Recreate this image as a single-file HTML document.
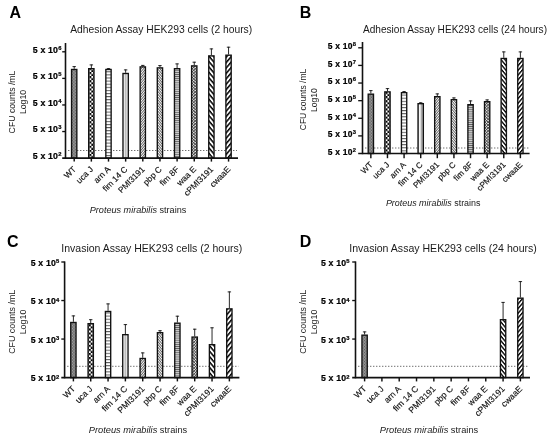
<!DOCTYPE html>
<html><head><meta charset="utf-8"><title>Figure</title>
<style>html,body{margin:0;padding:0;background:#fff}svg{display:block}text{font-family:"Liberation Sans", sans-serif}</style></head>
<body><svg width="550" height="441" viewBox="0 0 550 441">
<rect width="550" height="441" fill="#fff"/>
<defs>
<pattern id="A0" width="1.5" height="1.5" patternUnits="userSpaceOnUse"><rect width="1.5" height="1.5" fill="#a6a6a6"/><rect width="0.75" height="0.75" fill="#5e5e5e"/><rect x="0.75" y="0.75" width="0.75" height="0.75" fill="#5e5e5e"/></pattern>
<pattern id="A1" width="3.95" height="4.1" patternUnits="userSpaceOnUse"><rect width="3.95" height="4.1" fill="#fff"/><rect width="1.975" height="2.05" fill="#000"/><rect x="1.975" y="2.05" width="1.975" height="2.05" fill="#000"/></pattern>
<pattern id="A2" width="3.95" height="3.1" patternUnits="userSpaceOnUse"><rect width="3.95" height="3.1" fill="#fff"/><rect width="3.95" height="1.0" fill="#5c5c5c"/></pattern>
<pattern id="A3" width="3.95" height="4" patternUnits="userSpaceOnUse"><rect width="3.95" height="4" fill="#fbfbfb"/><rect x="1.45" width="1.05" height="4" fill="#888"/></pattern>
<pattern id="A4" width="1.8" height="1.8" patternUnits="userSpaceOnUse" patternTransform="rotate(-50)"><rect width="1.8" height="1.8" fill="#fff"/><rect width="1.8" height="0.8" fill="#4a4a4a"/></pattern>
<pattern id="A5" width="1.8" height="1.8" patternUnits="userSpaceOnUse" patternTransform="rotate(50)"><rect width="1.8" height="1.8" fill="#fff"/><rect width="1.8" height="0.8" fill="#4a4a4a"/></pattern>
<pattern id="A6" width="1.975" height="2.1" patternUnits="userSpaceOnUse"><rect width="1.975" height="2.1" fill="#fff"/><rect width="1.975" height="0.75" fill="#5a5a5a"/><rect x="1.675" width="0.6" height="2.1" fill="#5a5a5a"/><rect x="-0.3" width="0.6" height="2.1" fill="#5a5a5a"/></pattern>
<pattern id="A7" width="2.05" height="2.05" patternUnits="userSpaceOnUse" patternTransform="rotate(45)"><rect width="2.05" height="2.05" fill="#fff"/><rect width="2.05" height="0.8" fill="#4a4a4a"/><rect width="0.8" height="2.05" fill="#4a4a4a"/></pattern>
<pattern id="A8" width="3.471" height="3.471" patternUnits="userSpaceOnUse" patternTransform="rotate(50)"><rect width="3.471" height="3.471" fill="#fff"/><rect width="3.471" height="1.527" fill="#000"/></pattern>
<pattern id="A9" width="3.471" height="3.471" patternUnits="userSpaceOnUse" patternTransform="rotate(-50)"><rect width="3.471" height="3.471" fill="#fff"/><rect width="3.471" height="1.527" fill="#000"/></pattern>
</defs>
<text x="9.5" y="18.2" font-size="16" font-weight="bold" fill="#000">A</text>
<text x="161.2" y="33" font-size="10.3" text-anchor="middle" fill="#1a1a1a">Adhesion Assay HEK293 cells (2 hours)</text>
<line x1="68.0" y1="150.5" x2="237" y2="150.5" stroke="#555" stroke-width="0.85" stroke-dasharray="1.4 1.6"/>
<line x1="74.20" y1="66.2" x2="74.20" y2="68.8" stroke="#111" stroke-width="0.9"/>
<line x1="72.50" y1="66.60000000000001" x2="75.90" y2="66.60000000000001" stroke="#111" stroke-width="0.9"/>
<g transform="translate(72.22,158.10)"><rect x="-0.68" y="-88.62" width="5.30" height="88.62" fill="url(#A0)" stroke="#111" stroke-width="1.35"/></g>
<line x1="91.35" y1="64.5" x2="91.35" y2="68" stroke="#111" stroke-width="0.9"/>
<line x1="89.65" y1="64.9" x2="93.05" y2="64.9" stroke="#111" stroke-width="0.9"/>
<g transform="translate(89.37,158.10)"><rect x="-0.68" y="-89.42" width="5.30" height="89.42" fill="url(#A1)" stroke="#111" stroke-width="1.35"/></g>
<line x1="108.50" y1="68.2" x2="108.50" y2="68.8" stroke="#111" stroke-width="0.9"/>
<line x1="106.80" y1="68.60000000000001" x2="110.20" y2="68.60000000000001" stroke="#111" stroke-width="0.9"/>
<g transform="translate(106.52,158.10)"><rect x="-0.68" y="-88.62" width="5.30" height="88.62" fill="url(#A2)" stroke="#111" stroke-width="1.35"/></g>
<line x1="125.65" y1="69.5" x2="125.65" y2="72.8" stroke="#111" stroke-width="0.9"/>
<line x1="123.95" y1="69.9" x2="127.35" y2="69.9" stroke="#111" stroke-width="0.9"/>
<g transform="translate(123.67,158.10)"><rect x="-0.68" y="-84.62" width="5.30" height="84.62" fill="url(#A3)" stroke="#111" stroke-width="1.35"/></g>
<line x1="142.80" y1="65" x2="142.80" y2="66.2" stroke="#111" stroke-width="0.9"/>
<line x1="141.10" y1="65.4" x2="144.50" y2="65.4" stroke="#111" stroke-width="0.9"/>
<g transform="translate(140.83,158.10)"><rect x="-0.68" y="-91.22" width="5.30" height="91.22" fill="url(#A4)" stroke="#111" stroke-width="1.35"/></g>
<line x1="159.95" y1="65.2" x2="159.95" y2="67.2" stroke="#111" stroke-width="0.9"/>
<line x1="158.25" y1="65.60000000000001" x2="161.65" y2="65.60000000000001" stroke="#111" stroke-width="0.9"/>
<g transform="translate(157.97,158.10)"><rect x="-0.68" y="-90.22" width="5.30" height="90.22" fill="url(#A5)" stroke="#111" stroke-width="1.35"/></g>
<line x1="177.10" y1="63.5" x2="177.10" y2="68" stroke="#111" stroke-width="0.9"/>
<line x1="175.40" y1="63.9" x2="178.80" y2="63.9" stroke="#111" stroke-width="0.9"/>
<g transform="translate(175.12,158.10)"><rect x="-0.68" y="-89.42" width="5.30" height="89.42" fill="url(#A6)" stroke="#111" stroke-width="1.35"/></g>
<line x1="194.25" y1="61.8" x2="194.25" y2="65.2" stroke="#111" stroke-width="0.9"/>
<line x1="192.55" y1="62.199999999999996" x2="195.95" y2="62.199999999999996" stroke="#111" stroke-width="0.9"/>
<g transform="translate(192.28,158.10)"><rect x="-0.68" y="-92.22" width="5.30" height="92.22" fill="url(#A7)" stroke="#111" stroke-width="1.35"/></g>
<line x1="211.40" y1="48.5" x2="211.40" y2="55.2" stroke="#111" stroke-width="0.9"/>
<line x1="209.70" y1="48.9" x2="213.10" y2="48.9" stroke="#111" stroke-width="0.9"/>
<g transform="translate(209.42,158.10)"><rect x="-0.68" y="-102.22" width="5.30" height="102.22" fill="url(#A8)" stroke="#111" stroke-width="1.35"/></g>
<line x1="228.55" y1="46.8" x2="228.55" y2="54.5" stroke="#111" stroke-width="0.9"/>
<line x1="226.85" y1="47.199999999999996" x2="230.25" y2="47.199999999999996" stroke="#111" stroke-width="0.9"/>
<g transform="translate(226.58,158.10)"><rect x="-0.68" y="-102.92" width="5.30" height="102.92" fill="url(#A9)" stroke="#111" stroke-width="1.35"/></g>
<line x1="65.5" y1="43" x2="65.5" y2="158.79999999999998" stroke="#111" stroke-width="1.6"/>
<line x1="62.199999999999996" y1="158.1" x2="238" y2="158.1" stroke="#111" stroke-width="1.7"/>
<line x1="62.199999999999996" y1="51.8" x2="65.5" y2="51.8" stroke="#111" stroke-width="1.35"/>
<text x="32.8" y="52.70" font-size="8.80" font-weight="bold" letter-spacing="0.15" fill="#000" stroke="#000" stroke-width="0.2">5 x 10<tspan font-size="5.80" dy="-3.00">6</tspan></text>
<line x1="62.199999999999996" y1="78.38" x2="65.5" y2="78.38" stroke="#111" stroke-width="1.35"/>
<text x="32.8" y="79.28" font-size="8.80" font-weight="bold" letter-spacing="0.15" fill="#000" stroke="#000" stroke-width="0.2">5 x 10<tspan font-size="5.80" dy="-3.00">5</tspan></text>
<line x1="62.199999999999996" y1="104.96" x2="65.5" y2="104.96" stroke="#111" stroke-width="1.35"/>
<text x="32.8" y="105.86" font-size="8.80" font-weight="bold" letter-spacing="0.15" fill="#000" stroke="#000" stroke-width="0.2">5 x 10<tspan font-size="5.80" dy="-3.00">4</tspan></text>
<line x1="62.199999999999996" y1="131.54" x2="65.5" y2="131.54" stroke="#111" stroke-width="1.35"/>
<text x="32.8" y="132.44" font-size="8.80" font-weight="bold" letter-spacing="0.15" fill="#000" stroke="#000" stroke-width="0.2">5 x 10<tspan font-size="5.80" dy="-3.00">3</tspan></text>
<text x="32.8" y="159.02" font-size="8.80" font-weight="bold" letter-spacing="0.15" fill="#000" stroke="#000" stroke-width="0.2">5 x 10<tspan font-size="5.80" dy="-3.00">2</tspan></text>
<line x1="74.20" y1="158.1" x2="74.20" y2="161.6" stroke="#111" stroke-width="1.45"/>
<text transform="translate(76.60,169.90) rotate(-45)" font-size="8.40" text-anchor="end" fill="#111" stroke="#111" stroke-width="0.15">WT</text>
<line x1="91.35" y1="158.1" x2="91.35" y2="161.6" stroke="#111" stroke-width="1.45"/>
<text transform="translate(93.75,169.90) rotate(-45)" font-size="8.40" text-anchor="end" fill="#111" stroke="#111" stroke-width="0.15">uca J</text>
<line x1="108.50" y1="158.1" x2="108.50" y2="161.6" stroke="#111" stroke-width="1.45"/>
<text transform="translate(110.90,169.90) rotate(-45)" font-size="8.40" text-anchor="end" fill="#111" stroke="#111" stroke-width="0.15">arn A</text>
<line x1="125.65" y1="158.1" x2="125.65" y2="161.6" stroke="#111" stroke-width="1.45"/>
<text transform="translate(128.05,169.90) rotate(-45)" font-size="8.40" text-anchor="end" fill="#111" stroke="#111" stroke-width="0.15">fim 14 C</text>
<line x1="142.80" y1="158.1" x2="142.80" y2="161.6" stroke="#111" stroke-width="1.45"/>
<text transform="translate(145.20,169.90) rotate(-45)" font-size="8.40" text-anchor="end" fill="#111" stroke="#111" stroke-width="0.15">PMI3191</text>
<line x1="159.95" y1="158.1" x2="159.95" y2="161.6" stroke="#111" stroke-width="1.45"/>
<text transform="translate(162.35,169.90) rotate(-45)" font-size="8.40" text-anchor="end" fill="#111" stroke="#111" stroke-width="0.15">pbp C</text>
<line x1="177.10" y1="158.1" x2="177.10" y2="161.6" stroke="#111" stroke-width="1.45"/>
<text transform="translate(179.50,169.90) rotate(-45)" font-size="8.40" text-anchor="end" fill="#111" stroke="#111" stroke-width="0.15">fim 8F</text>
<line x1="194.25" y1="158.1" x2="194.25" y2="161.6" stroke="#111" stroke-width="1.45"/>
<text transform="translate(196.65,169.90) rotate(-45)" font-size="8.40" text-anchor="end" fill="#111" stroke="#111" stroke-width="0.15">waa E</text>
<line x1="211.40" y1="158.1" x2="211.40" y2="161.6" stroke="#111" stroke-width="1.45"/>
<text transform="translate(213.80,169.90) rotate(-45)" font-size="8.40" text-anchor="end" fill="#111" stroke="#111" stroke-width="0.15">cPMI3191</text>
<line x1="228.55" y1="158.1" x2="228.55" y2="161.6" stroke="#111" stroke-width="1.45"/>
<text transform="translate(230.95,169.90) rotate(-45)" font-size="8.40" text-anchor="end" fill="#111" stroke="#111" stroke-width="0.15">cwaaE</text>
<text transform="translate(15.2,102) rotate(-90)" font-size="8.70" text-anchor="middle" fill="#1a1a1a">CFU counts /mL</text>
<text transform="translate(26.2,102) rotate(-90)" font-size="8.70" text-anchor="middle" fill="#1a1a1a">Log10</text>
<text x="138" y="213" font-size="9.10" text-anchor="middle" fill="#1a1a1a"><tspan font-style="italic">Proteus mirabilis</tspan> strains</text>
<defs>
<pattern id="B0" width="1.5" height="1.5" patternUnits="userSpaceOnUse"><rect width="1.5" height="1.5" fill="#a6a6a6"/><rect width="0.75" height="0.75" fill="#5e5e5e"/><rect x="0.75" y="0.75" width="0.75" height="0.75" fill="#5e5e5e"/></pattern>
<pattern id="B1" width="3.95" height="4.1" patternUnits="userSpaceOnUse"><rect width="3.95" height="4.1" fill="#fff"/><rect width="1.975" height="2.05" fill="#000"/><rect x="1.975" y="2.05" width="1.975" height="2.05" fill="#000"/></pattern>
<pattern id="B2" width="3.95" height="3.1" patternUnits="userSpaceOnUse"><rect width="3.95" height="3.1" fill="#fff"/><rect width="3.95" height="1.0" fill="#5c5c5c"/></pattern>
<pattern id="B3" width="3.95" height="4" patternUnits="userSpaceOnUse"><rect width="3.95" height="4" fill="#f6f6f6"/><rect x="1.975" width="1.975" height="4" fill="#a8a8a8"/></pattern>
<pattern id="B4" width="1.8" height="1.8" patternUnits="userSpaceOnUse" patternTransform="rotate(-50)"><rect width="1.8" height="1.8" fill="#fff"/><rect width="1.8" height="0.8" fill="#4a4a4a"/></pattern>
<pattern id="B5" width="1.8" height="1.8" patternUnits="userSpaceOnUse" patternTransform="rotate(50)"><rect width="1.8" height="1.8" fill="#fff"/><rect width="1.8" height="0.8" fill="#4a4a4a"/></pattern>
<pattern id="B6" width="1.975" height="2.1" patternUnits="userSpaceOnUse"><rect width="1.975" height="2.1" fill="#fff"/><rect width="1.975" height="0.75" fill="#5a5a5a"/><rect x="1.675" width="0.6" height="2.1" fill="#5a5a5a"/><rect x="-0.3" width="0.6" height="2.1" fill="#5a5a5a"/></pattern>
<pattern id="B7" width="2.05" height="2.05" patternUnits="userSpaceOnUse" patternTransform="rotate(45)"><rect width="2.05" height="2.05" fill="#fff"/><rect width="2.05" height="0.8" fill="#4a4a4a"/><rect width="0.8" height="2.05" fill="#4a4a4a"/></pattern>
<pattern id="B8" width="3.021" height="3.021" patternUnits="userSpaceOnUse" patternTransform="rotate(50)"><rect width="3.021" height="3.021" fill="#fff"/><rect width="3.021" height="1.329" fill="#000"/></pattern>
<pattern id="B9" width="3.021" height="3.021" patternUnits="userSpaceOnUse" patternTransform="rotate(-50)"><rect width="3.021" height="3.021" fill="#fff"/><rect width="3.021" height="1.329" fill="#000"/></pattern>
</defs>
<text x="299.8" y="18.1" font-size="16" font-weight="bold" fill="#000">B</text>
<text x="455" y="33" font-size="10.1" text-anchor="middle" fill="#1a1a1a">Adhesion Assay HEK293 cells (24 hours)</text>
<line x1="365.0" y1="148" x2="528.6" y2="148" stroke="#555" stroke-width="0.85" stroke-dasharray="1.4 1.6"/>
<line x1="370.85" y1="90.2" x2="370.85" y2="93.5" stroke="#111" stroke-width="0.9"/>
<line x1="369.15" y1="90.60000000000001" x2="372.55" y2="90.60000000000001" stroke="#111" stroke-width="0.9"/>
<g transform="translate(368.88,153.50)"><rect x="-0.68" y="-59.33" width="5.30" height="59.33" fill="url(#B0)" stroke="#111" stroke-width="1.35"/></g>
<line x1="387.47" y1="88.2" x2="387.47" y2="91.2" stroke="#111" stroke-width="0.9"/>
<line x1="385.77" y1="88.60000000000001" x2="389.17" y2="88.60000000000001" stroke="#111" stroke-width="0.9"/>
<g transform="translate(385.49,153.50)"><rect x="-0.68" y="-61.62" width="5.30" height="61.62" fill="url(#B1)" stroke="#111" stroke-width="1.35"/></g>
<line x1="404.08" y1="91.2" x2="404.08" y2="92" stroke="#111" stroke-width="0.9"/>
<line x1="402.38" y1="91.60000000000001" x2="405.78" y2="91.60000000000001" stroke="#111" stroke-width="0.9"/>
<g transform="translate(402.11,153.50)"><rect x="-0.68" y="-60.83" width="5.30" height="60.83" fill="url(#B2)" stroke="#111" stroke-width="1.35"/></g>
<line x1="420.70" y1="102.4" x2="420.70" y2="103" stroke="#111" stroke-width="0.9"/>
<line x1="419.00" y1="102.80000000000001" x2="422.40" y2="102.80000000000001" stroke="#111" stroke-width="0.9"/>
<g transform="translate(418.72,153.50)"><rect x="-0.68" y="-49.83" width="5.30" height="49.83" fill="url(#B3)" stroke="#111" stroke-width="1.35"/></g>
<line x1="437.31" y1="93.5" x2="437.31" y2="96" stroke="#111" stroke-width="0.9"/>
<line x1="435.61" y1="93.9" x2="439.01" y2="93.9" stroke="#111" stroke-width="0.9"/>
<g transform="translate(435.34,153.50)"><rect x="-0.68" y="-56.83" width="5.30" height="56.83" fill="url(#B4)" stroke="#111" stroke-width="1.35"/></g>
<line x1="453.93" y1="97.5" x2="453.93" y2="99" stroke="#111" stroke-width="0.9"/>
<line x1="452.23" y1="97.9" x2="455.62" y2="97.9" stroke="#111" stroke-width="0.9"/>
<g transform="translate(451.95,153.50)"><rect x="-0.68" y="-53.83" width="5.30" height="53.83" fill="url(#B5)" stroke="#111" stroke-width="1.35"/></g>
<line x1="470.54" y1="100.5" x2="470.54" y2="104" stroke="#111" stroke-width="0.9"/>
<line x1="468.84" y1="100.9" x2="472.24" y2="100.9" stroke="#111" stroke-width="0.9"/>
<g transform="translate(468.57,153.50)"><rect x="-0.68" y="-48.83" width="5.30" height="48.83" fill="url(#B6)" stroke="#111" stroke-width="1.35"/></g>
<line x1="487.16" y1="99.5" x2="487.16" y2="101" stroke="#111" stroke-width="0.9"/>
<line x1="485.46" y1="99.9" x2="488.86" y2="99.9" stroke="#111" stroke-width="0.9"/>
<g transform="translate(485.18,153.50)"><rect x="-0.68" y="-51.83" width="5.30" height="51.83" fill="url(#B7)" stroke="#111" stroke-width="1.35"/></g>
<line x1="503.77" y1="51.5" x2="503.77" y2="57.8" stroke="#111" stroke-width="0.9"/>
<line x1="502.07" y1="51.9" x2="505.47" y2="51.9" stroke="#111" stroke-width="0.9"/>
<g transform="translate(501.80,153.50)"><rect x="-0.68" y="-95.03" width="5.30" height="95.03" fill="url(#B8)" stroke="#111" stroke-width="1.35"/></g>
<line x1="520.38" y1="51.5" x2="520.38" y2="57.8" stroke="#111" stroke-width="0.9"/>
<line x1="518.68" y1="51.9" x2="522.09" y2="51.9" stroke="#111" stroke-width="0.9"/>
<g transform="translate(518.41,153.50)"><rect x="-0.68" y="-95.03" width="5.30" height="95.03" fill="url(#B9)" stroke="#111" stroke-width="1.35"/></g>
<line x1="362.5" y1="42" x2="362.5" y2="154.2" stroke="#111" stroke-width="1.6"/>
<line x1="358.2" y1="153.5" x2="529.6" y2="153.5" stroke="#111" stroke-width="1.4"/>
<line x1="358.2" y1="47.8" x2="362.5" y2="47.8" stroke="#111" stroke-width="1.35"/>
<text x="327.8" y="49.20" font-size="8.50" font-weight="bold" letter-spacing="0.22" fill="#000" stroke="#000" stroke-width="0.2">5 x 10<tspan font-size="5.80" dy="-3.00">8</tspan></text>
<line x1="358.2" y1="65.42" x2="362.5" y2="65.42" stroke="#111" stroke-width="1.35"/>
<text x="327.8" y="66.82" font-size="8.50" font-weight="bold" letter-spacing="0.22" fill="#000" stroke="#000" stroke-width="0.2">5 x 10<tspan font-size="5.80" dy="-3.00">7</tspan></text>
<line x1="358.2" y1="83.03999999999999" x2="362.5" y2="83.03999999999999" stroke="#111" stroke-width="1.35"/>
<text x="327.8" y="84.44" font-size="8.50" font-weight="bold" letter-spacing="0.22" fill="#000" stroke="#000" stroke-width="0.2">5 x 10<tspan font-size="5.80" dy="-3.00">6</tspan></text>
<line x1="358.2" y1="100.66" x2="362.5" y2="100.66" stroke="#111" stroke-width="1.35"/>
<text x="327.8" y="102.06" font-size="8.50" font-weight="bold" letter-spacing="0.22" fill="#000" stroke="#000" stroke-width="0.2">5 x 10<tspan font-size="5.80" dy="-3.00">5</tspan></text>
<line x1="358.2" y1="118.28" x2="362.5" y2="118.28" stroke="#111" stroke-width="1.35"/>
<text x="327.8" y="119.68" font-size="8.50" font-weight="bold" letter-spacing="0.22" fill="#000" stroke="#000" stroke-width="0.2">5 x 10<tspan font-size="5.80" dy="-3.00">4</tspan></text>
<line x1="358.2" y1="135.9" x2="362.5" y2="135.9" stroke="#111" stroke-width="1.35"/>
<text x="327.8" y="137.30" font-size="8.50" font-weight="bold" letter-spacing="0.22" fill="#000" stroke="#000" stroke-width="0.2">5 x 10<tspan font-size="5.80" dy="-3.00">3</tspan></text>
<text x="327.8" y="154.92" font-size="8.50" font-weight="bold" letter-spacing="0.22" fill="#000" stroke="#000" stroke-width="0.2">5 x 10<tspan font-size="5.80" dy="-3.00">2</tspan></text>
<line x1="370.85" y1="153.5" x2="370.85" y2="158.20000000000002" stroke="#111" stroke-width="1.45"/>
<text transform="translate(373.25,165.30) rotate(-45)" font-size="8.23" text-anchor="end" fill="#111" stroke="#111" stroke-width="0.15">WT</text>
<line x1="387.47" y1="153.5" x2="387.47" y2="158.20000000000002" stroke="#111" stroke-width="1.45"/>
<text transform="translate(389.87,165.30) rotate(-45)" font-size="8.23" text-anchor="end" fill="#111" stroke="#111" stroke-width="0.15">uca J</text>
<line x1="404.08" y1="153.5" x2="404.08" y2="158.20000000000002" stroke="#111" stroke-width="1.45"/>
<text transform="translate(406.48,165.30) rotate(-45)" font-size="8.23" text-anchor="end" fill="#111" stroke="#111" stroke-width="0.15">arn A</text>
<line x1="420.70" y1="153.5" x2="420.70" y2="158.20000000000002" stroke="#111" stroke-width="1.45"/>
<text transform="translate(423.10,165.30) rotate(-45)" font-size="8.23" text-anchor="end" fill="#111" stroke="#111" stroke-width="0.15">fim 14 C</text>
<line x1="437.31" y1="153.5" x2="437.31" y2="158.20000000000002" stroke="#111" stroke-width="1.45"/>
<text transform="translate(439.71,165.30) rotate(-45)" font-size="8.23" text-anchor="end" fill="#111" stroke="#111" stroke-width="0.15">PMI3191</text>
<line x1="453.93" y1="153.5" x2="453.93" y2="158.20000000000002" stroke="#111" stroke-width="1.45"/>
<text transform="translate(456.32,165.30) rotate(-45)" font-size="8.23" text-anchor="end" fill="#111" stroke="#111" stroke-width="0.15">pbp C</text>
<line x1="470.54" y1="153.5" x2="470.54" y2="158.20000000000002" stroke="#111" stroke-width="1.45"/>
<text transform="translate(472.94,165.30) rotate(-45)" font-size="8.23" text-anchor="end" fill="#111" stroke="#111" stroke-width="0.15">fim 8F</text>
<line x1="487.16" y1="153.5" x2="487.16" y2="158.20000000000002" stroke="#111" stroke-width="1.45"/>
<text transform="translate(489.56,165.30) rotate(-45)" font-size="8.23" text-anchor="end" fill="#111" stroke="#111" stroke-width="0.15">waa E</text>
<line x1="503.77" y1="153.5" x2="503.77" y2="158.20000000000002" stroke="#111" stroke-width="1.45"/>
<text transform="translate(506.17,165.30) rotate(-45)" font-size="8.23" text-anchor="end" fill="#111" stroke="#111" stroke-width="0.15">cPMI3191</text>
<line x1="520.38" y1="153.5" x2="520.38" y2="158.20000000000002" stroke="#111" stroke-width="1.45"/>
<text transform="translate(522.78,165.30) rotate(-45)" font-size="8.23" text-anchor="end" fill="#111" stroke="#111" stroke-width="0.15">cwaaE</text>
<text transform="translate(306,99.5) rotate(-90)" font-size="8.53" text-anchor="middle" fill="#1a1a1a">CFU counts /mL</text>
<text transform="translate(316.5,100.2) rotate(-90)" font-size="8.53" text-anchor="middle" fill="#1a1a1a">Log10</text>
<text x="433.2" y="206.4" font-size="8.92" text-anchor="middle" fill="#1a1a1a"><tspan font-style="italic">Proteus mirabilis</tspan> strains</text>
<defs>
<pattern id="C0" width="1.5" height="1.5" patternUnits="userSpaceOnUse"><rect width="1.5" height="1.5" fill="#a6a6a6"/><rect width="0.75" height="0.75" fill="#5e5e5e"/><rect x="0.75" y="0.75" width="0.75" height="0.75" fill="#5e5e5e"/></pattern>
<pattern id="C1" width="3.95" height="4.1" patternUnits="userSpaceOnUse"><rect width="3.95" height="4.1" fill="#fff"/><rect width="1.975" height="2.05" fill="#000"/><rect x="1.975" y="2.05" width="1.975" height="2.05" fill="#000"/></pattern>
<pattern id="C2" width="3.95" height="3.1" patternUnits="userSpaceOnUse"><rect width="3.95" height="3.1" fill="#fff"/><rect width="3.95" height="1.0" fill="#5c5c5c"/></pattern>
<pattern id="C3" width="3.95" height="4" patternUnits="userSpaceOnUse"><rect width="3.95" height="4" fill="#fbfbfb"/><rect x="1.45" width="1.05" height="4" fill="#888"/></pattern>
<pattern id="C4" width="1.8" height="1.8" patternUnits="userSpaceOnUse" patternTransform="rotate(-50)"><rect width="1.8" height="1.8" fill="#fff"/><rect width="1.8" height="0.8" fill="#4a4a4a"/></pattern>
<pattern id="C5" width="1.8" height="1.8" patternUnits="userSpaceOnUse" patternTransform="rotate(50)"><rect width="1.8" height="1.8" fill="#fff"/><rect width="1.8" height="0.8" fill="#4a4a4a"/></pattern>
<pattern id="C6" width="1.975" height="2.1" patternUnits="userSpaceOnUse"><rect width="1.975" height="2.1" fill="#fff"/><rect width="1.975" height="0.75" fill="#5a5a5a"/><rect x="1.675" width="0.6" height="2.1" fill="#5a5a5a"/><rect x="-0.3" width="0.6" height="2.1" fill="#5a5a5a"/></pattern>
<pattern id="C7" width="2.05" height="2.05" patternUnits="userSpaceOnUse" patternTransform="rotate(45)"><rect width="2.05" height="2.05" fill="#fff"/><rect width="2.05" height="0.8" fill="#4a4a4a"/><rect width="0.8" height="2.05" fill="#4a4a4a"/></pattern>
<pattern id="C8" width="3.471" height="3.471" patternUnits="userSpaceOnUse" patternTransform="rotate(50)"><rect width="3.471" height="3.471" fill="#fff"/><rect width="3.471" height="1.527" fill="#000"/></pattern>
<pattern id="C9" width="3.471" height="3.471" patternUnits="userSpaceOnUse" patternTransform="rotate(-50)"><rect width="3.471" height="3.471" fill="#fff"/><rect width="3.471" height="1.527" fill="#000"/></pattern>
</defs>
<text x="7" y="246.8" font-size="16" font-weight="bold" fill="#000">C</text>
<text x="151.8" y="252" font-size="10.5" text-anchor="middle" fill="#1a1a1a">Invasion Assay HEK293 cells (2 hours)</text>
<line x1="67.1" y1="366.3" x2="238.4" y2="366.3" stroke="#555" stroke-width="0.85" stroke-dasharray="1.4 1.6"/>
<line x1="73.40" y1="315.5" x2="73.40" y2="321.8" stroke="#111" stroke-width="0.9"/>
<line x1="71.70" y1="315.9" x2="75.10" y2="315.9" stroke="#111" stroke-width="0.9"/>
<g transform="translate(71.42,377.60)"><rect x="-0.68" y="-55.12" width="5.30" height="55.13" fill="url(#C0)" stroke="#111" stroke-width="1.35"/></g>
<line x1="90.73" y1="319.3" x2="90.73" y2="323" stroke="#111" stroke-width="0.9"/>
<line x1="89.03" y1="319.7" x2="92.43" y2="319.7" stroke="#111" stroke-width="0.9"/>
<g transform="translate(88.75,377.60)"><rect x="-0.68" y="-53.93" width="5.30" height="53.93" fill="url(#C1)" stroke="#111" stroke-width="1.35"/></g>
<line x1="108.06" y1="303.5" x2="108.06" y2="310.8" stroke="#111" stroke-width="0.9"/>
<line x1="106.36" y1="303.9" x2="109.76" y2="303.9" stroke="#111" stroke-width="0.9"/>
<g transform="translate(106.08,377.60)"><rect x="-0.68" y="-66.12" width="5.30" height="66.13" fill="url(#C2)" stroke="#111" stroke-width="1.35"/></g>
<line x1="125.39" y1="324.2" x2="125.39" y2="334" stroke="#111" stroke-width="0.9"/>
<line x1="123.69" y1="324.59999999999997" x2="127.09" y2="324.59999999999997" stroke="#111" stroke-width="0.9"/>
<g transform="translate(123.41,377.60)"><rect x="-0.68" y="-42.93" width="5.30" height="42.93" fill="url(#C3)" stroke="#111" stroke-width="1.35"/></g>
<line x1="142.72" y1="352.5" x2="142.72" y2="357.8" stroke="#111" stroke-width="0.9"/>
<line x1="141.02" y1="352.9" x2="144.42" y2="352.9" stroke="#111" stroke-width="0.9"/>
<g transform="translate(140.75,377.60)"><rect x="-0.68" y="-19.12" width="5.30" height="19.13" fill="url(#C4)" stroke="#111" stroke-width="1.35"/></g>
<line x1="160.05" y1="330.3" x2="160.05" y2="332" stroke="#111" stroke-width="0.9"/>
<line x1="158.35" y1="330.7" x2="161.75" y2="330.7" stroke="#111" stroke-width="0.9"/>
<g transform="translate(158.08,377.60)"><rect x="-0.68" y="-44.93" width="5.30" height="44.93" fill="url(#C5)" stroke="#111" stroke-width="1.35"/></g>
<line x1="177.38" y1="315.8" x2="177.38" y2="322.5" stroke="#111" stroke-width="0.9"/>
<line x1="175.68" y1="316.2" x2="179.08" y2="316.2" stroke="#111" stroke-width="0.9"/>
<g transform="translate(175.41,377.60)"><rect x="-0.68" y="-54.43" width="5.30" height="54.43" fill="url(#C6)" stroke="#111" stroke-width="1.35"/></g>
<line x1="194.71" y1="328.8" x2="194.71" y2="336.4" stroke="#111" stroke-width="0.9"/>
<line x1="193.01" y1="329.2" x2="196.41" y2="329.2" stroke="#111" stroke-width="0.9"/>
<g transform="translate(192.73,377.60)"><rect x="-0.68" y="-40.53" width="5.30" height="40.53" fill="url(#C7)" stroke="#111" stroke-width="1.35"/></g>
<line x1="212.04" y1="327.4" x2="212.04" y2="344" stroke="#111" stroke-width="0.9"/>
<line x1="210.34" y1="327.79999999999995" x2="213.74" y2="327.79999999999995" stroke="#111" stroke-width="0.9"/>
<g transform="translate(210.06,377.60)"><rect x="-0.68" y="-32.93" width="5.30" height="32.93" fill="url(#C8)" stroke="#111" stroke-width="1.35"/></g>
<line x1="229.37" y1="291.5" x2="229.37" y2="308.2" stroke="#111" stroke-width="0.9"/>
<line x1="227.67" y1="291.9" x2="231.07" y2="291.9" stroke="#111" stroke-width="0.9"/>
<g transform="translate(227.39,377.60)"><rect x="-0.68" y="-68.73" width="5.30" height="68.73" fill="url(#C9)" stroke="#111" stroke-width="1.35"/></g>
<line x1="64.6" y1="261.4" x2="64.6" y2="378.3" stroke="#111" stroke-width="1.6"/>
<line x1="61.29999999999999" y1="377.6" x2="239.4" y2="377.6" stroke="#111" stroke-width="1.6"/>
<line x1="61.29999999999999" y1="262.0" x2="64.6" y2="262.0" stroke="#111" stroke-width="1.35"/>
<text x="30.7" y="265.60" font-size="8.75" font-weight="bold" letter-spacing="0.15" fill="#000" stroke="#000" stroke-width="0.2">5 x 10<tspan font-size="5.80" dy="-2.40">5</tspan></text>
<line x1="61.29999999999999" y1="300.53" x2="64.6" y2="300.53" stroke="#111" stroke-width="1.35"/>
<text x="30.7" y="304.13" font-size="8.75" font-weight="bold" letter-spacing="0.15" fill="#000" stroke="#000" stroke-width="0.2">5 x 10<tspan font-size="5.80" dy="-2.40">4</tspan></text>
<line x1="61.29999999999999" y1="339.06" x2="64.6" y2="339.06" stroke="#111" stroke-width="1.35"/>
<text x="30.7" y="342.66" font-size="8.75" font-weight="bold" letter-spacing="0.15" fill="#000" stroke="#000" stroke-width="0.2">5 x 10<tspan font-size="5.80" dy="-2.40">3</tspan></text>
<text x="30.7" y="381.19" font-size="8.75" font-weight="bold" letter-spacing="0.15" fill="#000" stroke="#000" stroke-width="0.2">5 x 10<tspan font-size="5.80" dy="-2.40">2</tspan></text>
<line x1="73.40" y1="377.6" x2="73.40" y2="381.4" stroke="#111" stroke-width="1.45"/>
<text transform="translate(75.80,389.40) rotate(-45)" font-size="8.57" text-anchor="end" fill="#111" stroke="#111" stroke-width="0.15">WT</text>
<line x1="90.73" y1="377.6" x2="90.73" y2="381.4" stroke="#111" stroke-width="1.45"/>
<text transform="translate(93.13,389.40) rotate(-45)" font-size="8.57" text-anchor="end" fill="#111" stroke="#111" stroke-width="0.15">uca J</text>
<line x1="108.06" y1="377.6" x2="108.06" y2="381.4" stroke="#111" stroke-width="1.45"/>
<text transform="translate(110.46,389.40) rotate(-45)" font-size="8.57" text-anchor="end" fill="#111" stroke="#111" stroke-width="0.15">arn A</text>
<line x1="125.39" y1="377.6" x2="125.39" y2="381.4" stroke="#111" stroke-width="1.45"/>
<text transform="translate(127.79,389.40) rotate(-45)" font-size="8.57" text-anchor="end" fill="#111" stroke="#111" stroke-width="0.15">fim 14 C</text>
<line x1="142.72" y1="377.6" x2="142.72" y2="381.4" stroke="#111" stroke-width="1.45"/>
<text transform="translate(145.12,389.40) rotate(-45)" font-size="8.57" text-anchor="end" fill="#111" stroke="#111" stroke-width="0.15">PMI3191</text>
<line x1="160.05" y1="377.6" x2="160.05" y2="381.4" stroke="#111" stroke-width="1.45"/>
<text transform="translate(162.45,389.40) rotate(-45)" font-size="8.57" text-anchor="end" fill="#111" stroke="#111" stroke-width="0.15">pbp C</text>
<line x1="177.38" y1="377.6" x2="177.38" y2="381.4" stroke="#111" stroke-width="1.45"/>
<text transform="translate(179.78,389.40) rotate(-45)" font-size="8.57" text-anchor="end" fill="#111" stroke="#111" stroke-width="0.15">fim 8F</text>
<line x1="194.71" y1="377.6" x2="194.71" y2="381.4" stroke="#111" stroke-width="1.45"/>
<text transform="translate(197.11,389.40) rotate(-45)" font-size="8.57" text-anchor="end" fill="#111" stroke="#111" stroke-width="0.15">waa E</text>
<line x1="212.04" y1="377.6" x2="212.04" y2="381.4" stroke="#111" stroke-width="1.45"/>
<text transform="translate(214.44,389.40) rotate(-45)" font-size="8.57" text-anchor="end" fill="#111" stroke="#111" stroke-width="0.15">cPMI3191</text>
<line x1="229.37" y1="377.6" x2="229.37" y2="381.4" stroke="#111" stroke-width="1.45"/>
<text transform="translate(231.77,389.40) rotate(-45)" font-size="8.57" text-anchor="end" fill="#111" stroke="#111" stroke-width="0.15">cwaaE</text>
<text transform="translate(15.3,321.8) rotate(-90)" font-size="8.87" text-anchor="middle" fill="#1a1a1a">CFU counts /mL</text>
<text transform="translate(26.1,322) rotate(-90)" font-size="8.87" text-anchor="middle" fill="#1a1a1a">Log10</text>
<text x="138" y="432.8" font-size="9.28" text-anchor="middle" fill="#1a1a1a"><tspan font-style="italic">Proteus mirabilis</tspan> strains</text>
<defs>
<pattern id="D0" width="1.5" height="1.5" patternUnits="userSpaceOnUse"><rect width="1.5" height="1.5" fill="#a6a6a6"/><rect width="0.75" height="0.75" fill="#5e5e5e"/><rect x="0.75" y="0.75" width="0.75" height="0.75" fill="#5e5e5e"/></pattern>
<pattern id="D1" width="3.95" height="4.1" patternUnits="userSpaceOnUse"><rect width="3.95" height="4.1" fill="#fff"/><rect width="1.975" height="2.05" fill="#000"/><rect x="1.975" y="2.05" width="1.975" height="2.05" fill="#000"/></pattern>
<pattern id="D2" width="3.95" height="3.1" patternUnits="userSpaceOnUse"><rect width="3.95" height="3.1" fill="#fff"/><rect width="3.95" height="1.0" fill="#5c5c5c"/></pattern>
<pattern id="D3" width="3.95" height="4" patternUnits="userSpaceOnUse"><rect width="3.95" height="4" fill="#fbfbfb"/><rect x="1.45" width="1.05" height="4" fill="#888"/></pattern>
<pattern id="D4" width="1.8" height="1.8" patternUnits="userSpaceOnUse" patternTransform="rotate(-50)"><rect width="1.8" height="1.8" fill="#fff"/><rect width="1.8" height="0.8" fill="#4a4a4a"/></pattern>
<pattern id="D5" width="1.8" height="1.8" patternUnits="userSpaceOnUse" patternTransform="rotate(50)"><rect width="1.8" height="1.8" fill="#fff"/><rect width="1.8" height="0.8" fill="#4a4a4a"/></pattern>
<pattern id="D6" width="1.975" height="2.1" patternUnits="userSpaceOnUse"><rect width="1.975" height="2.1" fill="#fff"/><rect width="1.975" height="0.75" fill="#5a5a5a"/><rect x="1.675" width="0.6" height="2.1" fill="#5a5a5a"/><rect x="-0.3" width="0.6" height="2.1" fill="#5a5a5a"/></pattern>
<pattern id="D7" width="2.05" height="2.05" patternUnits="userSpaceOnUse" patternTransform="rotate(45)"><rect width="2.05" height="2.05" fill="#fff"/><rect width="2.05" height="0.8" fill="#4a4a4a"/><rect width="0.8" height="2.05" fill="#4a4a4a"/></pattern>
<pattern id="D8" width="3.021" height="3.021" patternUnits="userSpaceOnUse" patternTransform="rotate(50)"><rect width="3.021" height="3.021" fill="#fff"/><rect width="3.021" height="1.329" fill="#000"/></pattern>
<pattern id="D9" width="3.021" height="3.021" patternUnits="userSpaceOnUse" patternTransform="rotate(-50)"><rect width="3.021" height="3.021" fill="#fff"/><rect width="3.021" height="1.329" fill="#000"/></pattern>
</defs>
<text x="299.8" y="246.7" font-size="16" font-weight="bold" fill="#000">D</text>
<text x="443" y="252" font-size="10.55" text-anchor="middle" fill="#1a1a1a">Invasion Assay HEK293 cells (24 hours)</text>
<line x1="358.0" y1="366.3" x2="529" y2="366.3" stroke="#555" stroke-width="0.85" stroke-dasharray="1.4 1.6"/>
<line x1="364.60" y1="331.5" x2="364.60" y2="334.5" stroke="#111" stroke-width="0.9"/>
<line x1="362.90" y1="331.9" x2="366.30" y2="331.9" stroke="#111" stroke-width="0.9"/>
<g transform="translate(362.63,377.60)"><rect x="-0.68" y="-42.43" width="5.30" height="42.43" fill="url(#D0)" stroke="#111" stroke-width="1.35"/></g>
<line x1="503.08" y1="302" x2="503.08" y2="319" stroke="#111" stroke-width="0.9"/>
<line x1="501.38" y1="302.4" x2="504.78" y2="302.4" stroke="#111" stroke-width="0.9"/>
<g transform="translate(501.11,377.60)"><rect x="-0.68" y="-57.93" width="5.30" height="57.93" fill="url(#D8)" stroke="#111" stroke-width="1.35"/></g>
<line x1="520.39" y1="281.2" x2="520.39" y2="297.5" stroke="#111" stroke-width="0.9"/>
<line x1="518.69" y1="281.59999999999997" x2="522.09" y2="281.59999999999997" stroke="#111" stroke-width="0.9"/>
<g transform="translate(518.41,377.60)"><rect x="-0.68" y="-79.43" width="5.30" height="79.43" fill="url(#D9)" stroke="#111" stroke-width="1.35"/></g>
<line x1="355.5" y1="261.4" x2="355.5" y2="378.3" stroke="#111" stroke-width="1.6"/>
<line x1="352.2" y1="377.6" x2="530" y2="377.6" stroke="#111" stroke-width="1.6"/>
<line x1="352.2" y1="262.0" x2="355.5" y2="262.0" stroke="#111" stroke-width="1.35"/>
<text x="321" y="265.60" font-size="8.75" font-weight="bold" letter-spacing="0.15" fill="#000" stroke="#000" stroke-width="0.2">5 x 10<tspan font-size="5.80" dy="-2.40">5</tspan></text>
<line x1="352.2" y1="300.53" x2="355.5" y2="300.53" stroke="#111" stroke-width="1.35"/>
<text x="321" y="304.13" font-size="8.75" font-weight="bold" letter-spacing="0.15" fill="#000" stroke="#000" stroke-width="0.2">5 x 10<tspan font-size="5.80" dy="-2.40">4</tspan></text>
<line x1="352.2" y1="339.06" x2="355.5" y2="339.06" stroke="#111" stroke-width="1.35"/>
<text x="321" y="342.66" font-size="8.75" font-weight="bold" letter-spacing="0.15" fill="#000" stroke="#000" stroke-width="0.2">5 x 10<tspan font-size="5.80" dy="-2.40">3</tspan></text>
<text x="321" y="381.19" font-size="8.75" font-weight="bold" letter-spacing="0.15" fill="#000" stroke="#000" stroke-width="0.2">5 x 10<tspan font-size="5.80" dy="-2.40">2</tspan></text>
<line x1="364.60" y1="377.6" x2="364.60" y2="381.4" stroke="#111" stroke-width="1.45"/>
<text transform="translate(367.00,389.40) rotate(-45)" font-size="8.57" text-anchor="end" fill="#111" stroke="#111" stroke-width="0.15">WT</text>
<line x1="381.91" y1="377.6" x2="381.91" y2="381.4" stroke="#111" stroke-width="1.45"/>
<text transform="translate(384.31,389.40) rotate(-45)" font-size="8.57" text-anchor="end" fill="#111" stroke="#111" stroke-width="0.15">uca J</text>
<line x1="399.22" y1="377.6" x2="399.22" y2="381.4" stroke="#111" stroke-width="1.45"/>
<text transform="translate(401.62,389.40) rotate(-45)" font-size="8.57" text-anchor="end" fill="#111" stroke="#111" stroke-width="0.15">arn A</text>
<line x1="416.53" y1="377.6" x2="416.53" y2="381.4" stroke="#111" stroke-width="1.45"/>
<text transform="translate(418.93,389.40) rotate(-45)" font-size="8.57" text-anchor="end" fill="#111" stroke="#111" stroke-width="0.15">fim 14 C</text>
<line x1="433.84" y1="377.6" x2="433.84" y2="381.4" stroke="#111" stroke-width="1.45"/>
<text transform="translate(436.24,389.40) rotate(-45)" font-size="8.57" text-anchor="end" fill="#111" stroke="#111" stroke-width="0.15">PMI3191</text>
<line x1="451.15" y1="377.6" x2="451.15" y2="381.4" stroke="#111" stroke-width="1.45"/>
<text transform="translate(453.55,389.40) rotate(-45)" font-size="8.57" text-anchor="end" fill="#111" stroke="#111" stroke-width="0.15">pbp C</text>
<line x1="468.46" y1="377.6" x2="468.46" y2="381.4" stroke="#111" stroke-width="1.45"/>
<text transform="translate(470.86,389.40) rotate(-45)" font-size="8.57" text-anchor="end" fill="#111" stroke="#111" stroke-width="0.15">fim 8F</text>
<line x1="485.77" y1="377.6" x2="485.77" y2="381.4" stroke="#111" stroke-width="1.45"/>
<text transform="translate(488.17,389.40) rotate(-45)" font-size="8.57" text-anchor="end" fill="#111" stroke="#111" stroke-width="0.15">waa E</text>
<line x1="503.08" y1="377.6" x2="503.08" y2="381.4" stroke="#111" stroke-width="1.45"/>
<text transform="translate(505.48,389.40) rotate(-45)" font-size="8.57" text-anchor="end" fill="#111" stroke="#111" stroke-width="0.15">cPMI3191</text>
<line x1="520.39" y1="377.6" x2="520.39" y2="381.4" stroke="#111" stroke-width="1.45"/>
<text transform="translate(522.79,389.40) rotate(-45)" font-size="8.57" text-anchor="end" fill="#111" stroke="#111" stroke-width="0.15">cwaaE</text>
<text transform="translate(306.2,321.8) rotate(-90)" font-size="8.87" text-anchor="middle" fill="#1a1a1a">CFU counts /mL</text>
<text transform="translate(317.0,322) rotate(-90)" font-size="8.87" text-anchor="middle" fill="#1a1a1a">Log10</text>
<text x="429" y="432.8" font-size="9.28" text-anchor="middle" fill="#1a1a1a"><tspan font-style="italic">Proteus mirabilis</tspan> strains</text>
</svg></body></html>
